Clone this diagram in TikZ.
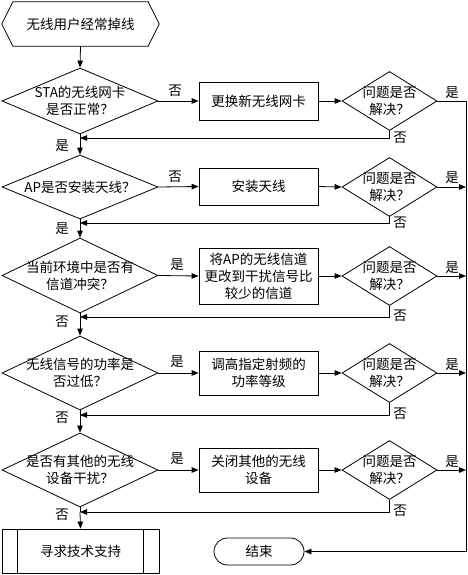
\documentclass[tikz,border=0pt]{standalone}
\usepackage{fontspec}
\setmainfont{Noto Sans CJK SC}
\usetikzlibrary{shapes.geometric,arrows.meta,calc}
\begin{document}
\begin{tikzpicture}[x=1pt,y=-1pt,
  every node/.style={font=\fontsize{13.5}{17}\selectfont},
  line/.style={line width=0.8pt},
  arr/.style={line, -{Triangle[length=7pt,width=5.5pt]}},
  bigdia/.style={diamond, draw, line width=0.8pt, minimum width=156pt, inner sep=0pt},
  smalldia/.style={diamond, draw, line width=0.8pt, minimum width=95pt, minimum height=59pt, inner sep=0pt},
  procbox/.style={rectangle, draw, line width=0.8pt, minimum width=119pt, inner sep=0pt, align=center},
  lbl/.style={inner sep=1pt}
]
\useasboundingbox (0,0) rectangle (468,575);

% start
\node[minimum width=157pt, minimum height=44pt, inner sep=0pt] (start) at (80.5,24) {无线用户经常掉线};
\draw[line] ([xshift=11pt]start.north west) -- ([xshift=-11pt]start.north east) -- (start.east)
  -- ([xshift=-11pt]start.south east) -- ([xshift=11pt]start.south west) -- (start.west) -- cycle;

% main decisions
\node[bigdia, minimum height=66pt, label={[align=center]center:STA的无线网卡\\是否正常？}] (d1) at (80,101) {};
\node[bigdia, minimum height=64pt, label={[align=center]center:AP是否安装天线？}] (d2) at (80,187) {};
\node[bigdia, minimum height=75pt, label={[align=center]center:当前环境中是否有\\信道冲突？}] (d3) at (80,275.5) {};
\node[bigdia, minimum height=74pt, label={[align=center]center:无线信号的功率是\\否过低？}] (d4) at (80,373) {};
\node[bigdia, minimum height=74pt, label={[align=center]center:是否有其他的无线\\设备干扰？}] (d5) at (80,470) {};

% action boxes
\node[procbox, minimum height=38pt] (b1) at (258.5,101) {更换新无线网卡};
\node[procbox, minimum height=37pt] (b2) at (258.5,186.5) {安装天线};
\node[procbox, minimum height=56pt] (b3) at (258.5,276) {将AP的无线信道\\更改到干扰信号比\\较少的信道};
\node[procbox, minimum height=44pt] (b4) at (258.5,373) {调高指定射频的\\功率等级};
\node[procbox, minimum height=44pt] (b5) at (258.5,470) {关闭其他的无线\\设备};

% small decisions
\foreach \i/\y in {1/101,2/187,3/276,4/373,5/470}{
  \node[smalldia, label={[align=center]center:问题是否\\解决？}] (s\i) at (389.5,\y) {};
}

% end nodes
\node[draw, line width=0.8pt, minimum width=157pt, minimum height=44pt] (sup) at (80.5,551) {寻求技术支持};
\draw[line] ([xshift=16pt]sup.north west) -- ([xshift=16pt]sup.south west);
\draw[line] ([xshift=-16pt]sup.north east) -- ([xshift=-16pt]sup.south east);
\node[draw, line width=0.8pt, rounded corners=13.5pt, minimum width=90pt, minimum height=27pt] (end) at (259,551.5) {结束};

% return points on main line
\coordinate (r1) at (80,138);
\coordinate (r2) at (80,223);
\coordinate (r3) at (80,317);
\coordinate (r4) at (80,415);
\coordinate (r5) at (80,512);
\coordinate (rtop) at (466,101);
\coordinate (rbot) at (466,551.5);

% connectors
\draw[arr] (start.south) -- (d1.north);
\draw[line] (d1.south) -- (r1); \draw[arr] (r1) -- (d2.north);
\draw[line] (d2.south) -- (r2); \draw[arr] (r2) -- (d3.north);
\draw[line] (d3.south) -- (r3); \draw[arr] (r3) -- (d4.north);
\draw[line] (d4.south) -- (r4); \draw[arr] (r4) -- (d5.north);
\draw[line] (d5.south) -- (r5); \draw[arr] (r5) -- (sup.north);

\foreach \i in {1,...,5}{
  \draw[arr] (d\i.east) -- (b\i.west);
  \draw[arr] (b\i.east) -- (s\i.west);
  \draw[arr] (s\i.south) |- (r\i);
}
\draw[line] (s1.east) -- (rtop) -- (rbot);
\draw[arr] (rbot) -- (end.east);
\foreach \i in {2,...,5}{
  \draw[arr] (s\i.east) -- (s\i.east -| rtop);
}

% labels
\node[lbl] at (175,91) {否};
\node[lbl] at (175,177) {否};
\node[lbl] at (177,265) {是};
\node[lbl] at (177,362) {是};
\node[lbl] at (177,459) {是};

\node[lbl] at (62,146) {是};
\node[lbl] at (62,229) {是};
\node[lbl] at (62,322) {否};
\node[lbl] at (62,418) {否};
\node[lbl] at (62,515) {否};

\foreach \y in {138,223,316,414,511}{
  \node[lbl] at (400,\y) {否};
}
\foreach \y in {93,178,268,365,462}{
  \node[lbl] at (452,\y) {是};
}
\end{tikzpicture}
\end{document}
